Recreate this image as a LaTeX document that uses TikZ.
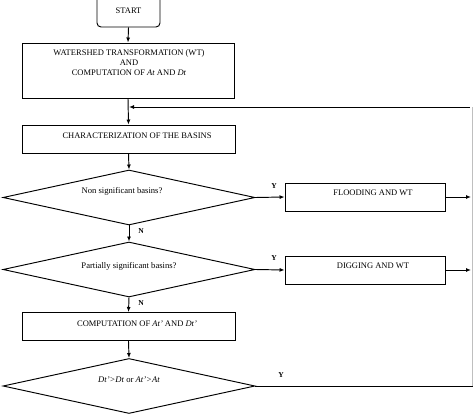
\documentclass[tikz,border=0pt]{standalone}
\usepackage{fontspec}
\setmainfont{Liberation Serif}
\usetikzlibrary{shapes.geometric,arrows.meta}
\begin{document}
\begin{tikzpicture}[x=1pt,y=-1pt,
  line width=0.95pt,
  box/.style={draw, rectangle, minimum width=213pt, minimum height=28pt, inner sep=0pt},
  sidebox/.style={draw, rectangle, minimum width=160pt, minimum height=28pt, inner sep=0pt},
  dia/.style={draw, diamond, minimum width=252pt, minimum height=55pt, inner sep=0pt},
  txt/.style={font=\fontsize{8.5}{10}\selectfont, inner sep=0pt, align=center},
  ltxt/.style={font=\fontsize{8.6}{10}\selectfont, inner sep=0pt},
  yn/.style={font=\fontsize{7.5}{8}\selectfont\bfseries, inner sep=0pt},
  arr/.style={-{Latex[length=5pt,width=4pt]}},
  ret/.style={draw=black!25, line width=1.8pt}
]
\useasboundingbox (0,0) rectangle (474,414);
% nodes
\node[draw, rounded corners=4pt, minimum width=63pt, minimum height=33pt, inner sep=0pt] (start) at (128.5,10.5) {};
\node[txt] (starttxt) at (128.5,10.5) {START};
\node[draw, rectangle, minimum width=212pt, minimum height=55pt, inner sep=0pt] (wt) at (128,70.5) {};
\node[txt] (wttxt) at (129,63) {WATERSHED TRANSFORMATION (WT)\\AND\\COMPUTATION OF \textit{At} AND \textit{Dt}};
\node[box] (char) at (128.5,139) {};
\node[txt] (chartxt) at (137,136) {CHARACTERIZATION OF THE BASINS};
\node[dia] (d1) at (129,197.5) {};
\node[ltxt] (d1txt) at (122,191) {Non significant basins?};
\node[sidebox] (flood) at (365,197) {};
\node[txt] (floodtxt) at (373,193) {FLOODING AND WT};
\node[dia] (d2) at (129,269.5) {};
\node[ltxt] (d2txt) at (129,266) {Partially significant basins?};
\node[sidebox] (dig) at (365,270) {};
\node[txt] (digtxt) at (373,266) {DIGGING AND WT};
\node[box] (comp) at (128.5,326.5) {};
\node[txt] (comptxt) at (137,324) {COMPUTATION OF \textit{At'} AND \textit{Dt'}};
\node[dia] (d3) at (129,386) {};
\node[ltxt] (d3txt) at (129,380) {\textit{Dt'>Dt} or \textit{At'>At}};
% coordinates
\coordinate (fe) at (471,197);
\coordinate (de) at (471,270);
\coordinate (r1) at (472.5,386);
\coordinate (r2) at (472.5,107);
\coordinate (r3) at (470,107);
\coordinate (m) at (129,107);
% connectors
\draw[arr] (start.south) -- (wt.north);
\draw[arr] (wt.south) -- (char.north);
\draw[arr] (char.south) -- (d1.north);
\draw[arr] (d1.east) -- (flood.west);
\draw[arr] (flood.east) -- (fe);
\draw[arr] (d1.south) -- (d2.north);
\draw[arr] (d2.east) -- (dig.west);
\draw[arr] (dig.east) -- (de);
\draw[arr] (d2.south) -- (comp.north);
\draw[arr] (comp.south) -- (d3.north);
\draw (d3.east) -- (r1);
\draw[ret] (r1) -- (r2);
\draw[arr] (r3) -- (m);
% labels
\node[yn] (y1) at (274,186) {Y};
\node[yn] (n1) at (141,231) {N};
\node[yn] (y2) at (274,258) {Y};
\node[yn] (n2) at (141,303) {N};
\node[yn] (y3) at (281,375) {Y};
\end{tikzpicture}
\end{document}
